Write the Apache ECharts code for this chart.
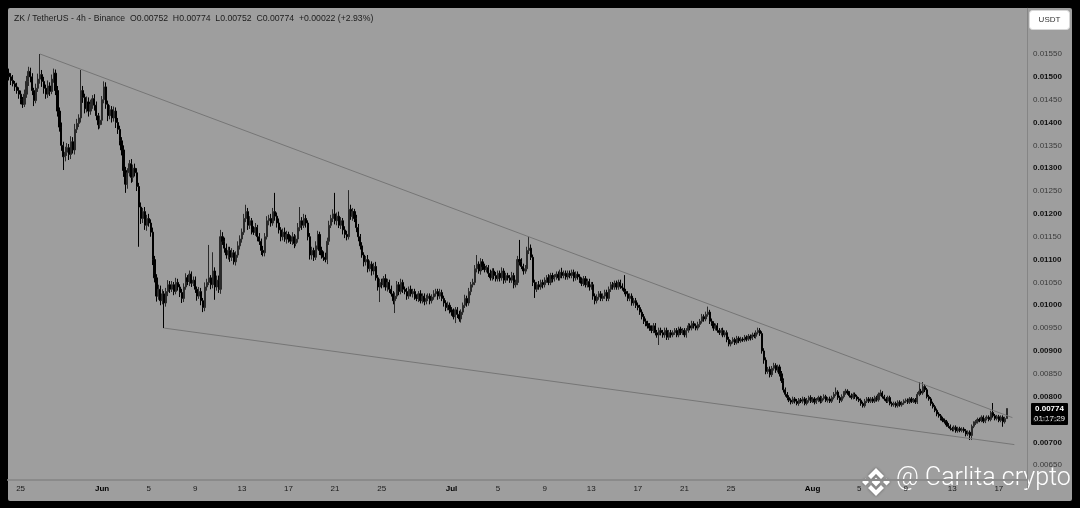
<!DOCTYPE html>
<html>
<head>
<meta charset="utf-8">
<title>ZK / TetherUS 4h</title>
<script src="https://cdn.jsdelivr.net/npm/echarts/dist/echarts.min.js"></script>
<style>
  html, body { margin: 0; padding: 0; background: #000; }
  #panel { position: absolute; left: 8px; top: 8px; width: 1064px; height: 493px; background: #9e9e9e; border-radius: 2px; }
  #main { position: absolute; left: 0; top: 0; width: 1080px; height: 508px; }
</style>
</head>
<body>
<div id="panel"></div>
<div id="main"></div>
<script>
// prices in 1e-5 USDT, one row = one day of six 4h candles
const firstOpen = 1508;

const closeMay = [
  1500,1492,1485,1478,1470,1462,
  1450,1440,1462,1490,1512,1500,
  1470,1448,1475,1495,1505,1490,
  1475,1462,1480,1468,1495,1508,
  1470,1425,1390,1350,1325,1335,
  1345,1330,1358,1340,1385,1398,
  1410,1470,1455,1430,1445,1425,
  1440,1452,1438,1415,1395,1405
];
const upMay = [
  10,8,12,6,9,7,
  8,6,10,12,10,8,
  8,6,10,12,45,10,
  10,8,12,8,10,10,
  8,10,8,10,8,12,
  10,8,12,10,12,10,
  8,45,10,8,12,10,
  10,8,10,8,6,10
];
const dnMay = [
  8,10,6,9,7,10,
  10,8,6,8,10,12,
  10,12,6,8,10,12,
  12,10,8,10,6,8,
  10,12,10,12,29,10,
  8,12,10,8,10,8,
  8,10,12,10,8,12,
  8,10,12,10,10,8
];

const closeJun = [
  1450,1478,1440,1415,1428,1410,
  1425,1400,1385,1360,1340,1295,
  1265,1290,1310,1280,1300,1290,
  1260,1215,1190,1205,1175,1190,
  1180,1160,1100,1060,1020,1035,
  1010,1025,1005,1030,1045,1035,
  1045,1030,1050,1040,1028,1015,
  1040,1060,1052,1068,1048,1055,
  1035,1020,1030,1010,995,1040,
  1050,1060,1045,1075,1040,1055,
  1035,1150,1140,1125,1110,1120,
  1105,1115,1095,1110,1130,1145,
  1160,1190,1205,1175,1185,1165,
  1160,1170,1150,1140,1120,1115,
  1150,1185,1190,1180,1205,1195,
  1180,1165,1150,1160,1145,1155,
  1145,1140,1150,1135,1145,1170,
  1185,1175,1190,1180,1150,1110,
  1120,1105,1130,1155,1120,1110,
  1105,1100,1140,1175,1190,1200,
  1185,1195,1175,1185,1165,1155,
  1150,1210,1195,1205,1190,1170,
  1150,1130,1110,1095,1100,1080,
  1090,1075,1085,1060,1040,1050,
  1045,1058,1040,1050,1035,1025,
  1010,1020,1045,1030,1050,1035,
  1030,1020,1035,1025,1030,1018,
  1015,1025,1010,1020,1008,1015,
  1020,1010,1018,1025,1030,1020,
  1028,1015,1005,995,1000,990
];
const upJun = [
  8,12,10,8,10,8,
  10,8,10,8,8,10,
  8,10,8,10,8,10,
  10,8,10,8,10,8,
  10,8,10,8,8,10,
  8,10,6,8,10,8,
  8,6,10,8,6,8,
  8,10,6,8,6,8,
  8,6,10,8,6,10,
  8,72,6,41,8,10,
  10,15,10,8,10,8,
  8,10,6,8,10,8,
  8,10,15,8,10,6,
  8,10,6,8,6,10,
  8,10,8,10,8,41,
  8,10,6,8,10,8,
  6,8,10,6,8,10,
  30,8,10,8,6,8,
  8,6,10,8,6,8,
  8,10,8,10,8,10,
  46,8,10,8,6,8,
  8,42,10,8,6,8,
  8,6,8,6,8,10,
  8,6,8,10,6,8,
  8,6,10,8,6,8,
  6,8,8,6,8,6,
  6,8,6,8,6,6,
  6,6,8,6,6,8,
  6,6,6,8,6,6,
  8,6,6,6,8,6
];
const dnJun = [
  10,8,10,12,8,10,
  8,12,10,10,12,14,
  19,10,8,12,10,8,
  10,87,12,10,10,12,
  8,10,12,10,12,8,
  10,8,55,8,10,8,
  6,8,6,8,10,10,
  8,6,8,10,8,6,
  8,10,6,10,10,8,
  8,6,10,8,28,8,
  8,10,8,10,8,10,
  10,8,6,8,6,8,
  8,6,8,10,8,10,
  6,8,10,8,10,8,
  8,6,10,8,6,10,
  10,8,10,8,6,10,
  8,6,8,10,6,8,
  8,10,6,10,8,10,
  10,8,6,8,10,8,
  8,6,10,8,6,8,
  8,10,6,8,10,8,
  8,6,8,10,8,10,
  10,8,6,10,8,8,
  6,10,8,6,8,33,
  8,6,8,10,8,6,
  8,27,6,8,6,8,
  6,8,6,6,8,6,
  6,8,6,6,8,6,
  6,8,6,6,6,8,
  6,6,8,8,6,8
];

const closeJul = [
  985,975,990,980,970,985,
  1000,1015,1005,1030,1045,1050,
  1080,1090,1075,1095,1085,1078,
  1082,1070,1060,1075,1065,1058,
  1070,1060,1075,1055,1065,1060,
  1055,1065,1045,1050,1100,1095,
  1085,1075,1080,1120,1125,1105,
  1050,1035,1045,1040,1050,1045,
  1055,1060,1050,1065,1058,1062,
  1068,1060,1072,1065,1070,1062,
  1070,1065,1072,1060,1068,1062,
  1055,1048,1058,1045,1052,1040,
  1045,1020,1010,1018,1025,1015,
  1020,1028,1015,1035,1045,1040,
  1048,1040,1050,1042,1038,1030,
  1025,1015,1020,1005,1010,1000,
  995,985,975,965,960,955,
  950,945,955,940,935,945,
  940,935,945,930,940,935,
  940,945,935,948,940,945,
  935,945,955,950,960,955,
  950,958,965,975,970,980,
  985,965,960,950,955,945,
  940,945,935,940,925,915,
  920,925,918,928,922,926,
  924,930,926,932,928,935,
  932,940,945,938,900,880,
  855,860,848,862,868,858,
  865,850,835,815,805,798,
  792,788,795,790,785,793,
  790,795,785,792,798,790
];
const upJul = [
  6,8,6,6,8,6,
  6,8,6,8,6,8,
  8,20,6,8,6,6,
  6,6,8,6,6,8,
  6,6,8,6,6,6,
  6,8,6,6,8,43,
  8,6,8,8,25,8,
  6,6,6,8,6,6,
  6,6,8,6,6,6,
  6,6,6,10,6,6,
  6,6,6,6,6,6,
  6,6,6,6,6,6,
  6,6,6,6,6,6,
  6,6,6,6,6,6,
  6,6,6,6,6,28,
  6,6,6,6,6,6,
  6,6,6,6,6,6,
  6,6,6,6,6,6,
  6,6,6,6,6,6,
  5,5,5,5,5,5,
  5,5,6,5,6,5,
  5,6,5,6,5,6,
  12,5,6,5,5,6,
  5,5,6,5,5,6,
  4,5,4,5,4,5,
  4,5,4,5,4,5,
  5,5,6,5,5,6,
  6,5,6,5,6,5,
  5,5,6,5,5,5,
  5,4,5,4,5,4,
  4,5,4,5,4,5
];
const dnJul = [
  8,6,14,8,6,8,
  6,6,8,6,8,6,
  6,8,6,8,8,6,
  6,8,6,6,8,6,
  6,8,6,8,6,6,
  6,6,8,6,6,8,
  6,8,6,6,8,6,
  8,19,6,6,6,8,
  6,6,6,6,8,6,
  6,6,6,6,6,6,
  6,6,6,8,6,6,
  6,6,6,6,6,8,
  6,8,8,6,6,6,
  6,6,6,6,6,6,
  6,6,6,6,6,6,
  6,6,6,6,6,6,
  6,6,6,6,6,6,
  6,6,6,6,6,22,
  6,6,6,6,6,6,
  5,5,5,5,5,5,
  5,6,5,5,5,6,
  5,5,6,5,6,5,
  5,6,5,6,5,5,
  5,6,5,5,6,5,
  5,4,5,4,5,4,
  4,4,5,4,5,4,
  4,5,4,5,6,8,
  6,5,6,5,5,6,
  5,6,5,6,5,6,
  4,5,4,5,4,5,
  4,5,4,4,5,4
];

const closeAug = [
  795,788,792,798,790,796,
  800,792,795,790,798,805,
  810,798,792,800,808,812,
  808,802,798,805,800,795,
  792,785,780,790,795,790,
  795,790,798,793,805,808,
  800,795,790,798,785,782,
  785,780,788,782,786,790,
  792,788,795,790,793,788,
  805,812,808,822,815,800,
  795,785,778,770,762,758,
  752,748,745,738,735,730,
  728,733,725,730,726,729,
  725,718,722,715,735,742,
  745,750,748,755,746,752,
  755,750,765,758,752,756,
  748,755,745,752,774
];
const upAug = [
  4,4,5,4,4,5,
  5,4,4,5,4,5,
  10,4,4,5,4,5,
  4,4,5,4,4,4,
  4,4,4,5,4,4,
  4,4,4,4,4,7,
  4,4,4,4,4,4,
  4,4,4,4,4,4,
  4,4,4,4,4,4,
  5,20,5,10,5,4,
  4,4,4,4,4,4,
  4,4,4,4,4,4,
  4,4,4,4,4,4,
  4,4,4,4,4,4,
  4,4,4,4,4,4,
  4,4,4,21,4,4,
  4,4,4,4,0
];
const dnAug = [
  4,5,4,4,5,4,
  4,4,5,4,4,4,
  4,5,6,4,4,4,
  4,4,4,4,5,4,
  4,5,4,4,4,4,
  4,4,4,4,4,4,
  4,4,4,4,4,4,
  4,4,4,4,4,4,
  4,4,4,4,4,4,
  4,4,4,4,5,4,
  4,5,4,4,5,4,
  4,4,4,4,4,4,
  4,4,4,4,4,4,
  4,5,4,10,10,4,
  4,4,4,4,4,4,
  4,4,4,4,4,4,
  4,4,11,4,0
];

// trendlines: [candle index, price]
const upperLine = [[16, 0.01550], [517, 0.00754]];
const lowerLine = [[80, 0.00950], [518, 0.00695]];

const tickDays = [1, 5, 9, 13, 17, 21, 25];
const monthNames = ['Jan','Feb','Mar','Apr','May','Jun','Jul','Aug','Sep','Oct','Nov','Dec'];
const countdown = '01:17:29';

const unit = 0.00001;
const hour4 = 4 * 3600 * 1000;
const startTime = Date.UTC(2024, 4, 24);
const futureSlots = 10;

const closes = closeMay.concat(closeJun, closeJul, closeAug);
const wickUp = upMay.concat(upJun, upJul, upAug);
const wickDn = dnMay.concat(dnJun, dnJul, dnAug);

const categories = [];
for (let i = 0; i < closes.length + futureSlots; i++) {
  categories.push(String(startTime + i * hour4));
}

const candles = closes.map(function (c, i) {
  const o = i === 0 ? firstOpen : closes[i - 1];
  const h = Math.max(o, c) + wickUp[i];
  const l = Math.min(o, c) - wickDn[i];
  return [o * unit, c * unit, l * unit, h * unit];
});

const last = candles[candles.length - 1];
const fmt = function (v) { return v.toFixed(5); };
const change = last[1] - last[0];
const titleText = 'ZK / TetherUS - 4h - Binance  O' + fmt(last[0]) + '  H' + fmt(last[3]) +
  '  L' + fmt(last[2]) + '  C' + fmt(last[1]) + '  +' + fmt(change) +
  ' (+' + (change / last[0] * 100).toFixed(2) + '%)';

function tickLabel(index) {
  const d = new Date(startTime + index * hour4);
  if (d.getUTCHours() !== 0) return null;
  const day = d.getUTCDate();
  if (tickDays.indexOf(day) < 0) return null;
  return day === 1 ? '{m|' + monthNames[d.getUTCMonth()] + '}' : '{d|' + day + '}';
}

const font = '"Liberation Sans", Arial, sans-serif';
const shadow = { shadowBlur: 3, shadowColor: 'rgba(0,0,0,0.4)' };
const chart = echarts.init(document.getElementById('main'));

const option = {
  animation: false,
  backgroundColor: 'transparent',
  textStyle: { fontFamily: font },
  title: {
    text: titleText,
    left: 14, top: 14.5, padding: 0,
    textStyle: { fontSize: 8.7, fontWeight: 'normal', color: '#1c1c1c', fontFamily: font }
  },
  grid: { left: 8, right: 53, top: 8.3, bottom: 20 },
  xAxis: {
    type: 'category',
    data: categories,
    boundaryGap: true,
    offset: -8,
    axisLine: { show: true, lineStyle: { color: '#8a8a8a', width: 2 } },
    axisTick: { show: false },
    splitLine: { show: false },
    axisLabel: {
      margin: 5,
      interval: function (index) { return tickLabel(index) !== null; },
      formatter: function (value, index) { return tickLabel(index) || ''; },
      rich: {
        d: { fontSize: 8, color: '#1a1a1a', fontFamily: font },
        m: { fontSize: 8, color: '#000', fontWeight: 'bold', fontFamily: font }
      }
    }
  },
  yAxis: {
    type: 'value',
    position: 'right',
    min: 0.0060,
    max: 0.0165,
    interval: 0.0005,
    axisLine: { show: true, lineStyle: { color: '#858585', width: 1 } },
    axisTick: { show: false },
    splitLine: { show: false },
    axisLabel: {
      margin: 6,
      formatter: function (v) {
        const n = Math.round(v / unit);
        if (n > 1550 || n < 650) return '';
        const s = (n * unit).toFixed(5);
        return n % 100 === 0 ? '{b|' + s + '}' : '{n|' + s + '}';
      },
      rich: {
        b: { fontSize: 8, fontWeight: 'bold', color: '#111', fontFamily: font },
        n: { fontSize: 8, color: '#3a3a3a', fontFamily: font }
      }
    }
  },
  series: [{
    type: 'candlestick',
    data: candles,
    barWidth: '85%',
    itemStyle: {
      color: '#2a2a2a', color0: '#000',
      borderColor: '#2a2a2a', borderColor0: '#000',
      borderWidth: 1
    },
    markLine: {
      silent: true,
      animation: false,
      symbol: ['none', 'none'],
      lineStyle: { color: '#767676', width: 1, type: 'solid' },
      label: { show: false },
      data: [
        [{ coord: upperLine[0] }, { coord: upperLine[1] }],
        [{ coord: lowerLine[0] }, { coord: lowerLine[1] }]
      ]
    }
  }],
  graphic: [
    {
      id: 'unit', type: 'group', right: 10, top: 10,
      children: [
        { type: 'rect', shape: { x: 0, y: 0, width: 40, height: 19, r: 3 }, style: { fill: '#fff', stroke: '#d8d8d8' } },
        { type: 'text', style: { x: 20, y: 9.5, text: 'USDT', fill: '#333', font: '8px ' + font, textAlign: 'center', textVerticalAlign: 'middle' } }
      ]
    },
    {
      id: 'logo', type: 'group', left: 862, top: 468,
      children: [
        { type: 'polygon', shape: { points: [[14, 9.5], [18.5, 14], [14, 18.5], [9.5, 14]] }, style: Object.assign({ fill: '#fff' }, shadow) },
        { type: 'polygon', shape: { points: [[3.5, 10.5], [7, 14], [3.5, 17.5], [0, 14]] }, style: Object.assign({ fill: '#fff' }, shadow) },
        { type: 'polygon', shape: { points: [[24.5, 10.5], [28, 14], [24.5, 17.5], [21, 14]] }, style: Object.assign({ fill: '#fff' }, shadow) },
        { type: 'polygon', shape: { points: [[14, 0], [22, 8], [19, 11], [14, 6], [9, 11], [6, 8]] }, style: Object.assign({ fill: '#fff' }, shadow) },
        { type: 'polygon', shape: { points: [[14, 28], [22, 20], [19, 17], [14, 22], [9, 17], [6, 20]] }, style: Object.assign({ fill: '#fff' }, shadow) }
      ]
    },
    {
      id: 'mark', type: 'text', left: 896, top: 466,
      style: { text: '@ Carlita crypto', fill: '#fff', font: '300 25px Roboto, "Open Sans", sans-serif', shadowBlur: 3, shadowColor: 'rgba(0,0,0,0.45)' }
    }
  ]
};

chart.setOption(option);

// last price tag on the price scale, placed through the y axis
const priceY = chart.convertToPixel({ yAxisIndex: 0 }, last[1]);
option.graphic.push({
  id: 'priceTag', type: 'group', left: 1031, top: priceY - 5.5,
  children: [
    { type: 'rect', shape: { x: 0, y: 0, width: 37, height: 22, r: 1 }, style: { fill: '#000' } },
    { type: 'text', style: { x: 18.5, y: 6, text: fmt(last[1]), fill: '#fff', font: 'bold 8px ' + font, textAlign: 'center', textVerticalAlign: 'middle' } },
    { type: 'text', style: { x: 18.5, y: 16, text: countdown, fill: '#fff', font: '8px ' + font, textAlign: 'center', textVerticalAlign: 'middle' } }
  ]
});
chart.setOption(option, true);
</script>
</body>
</html>
